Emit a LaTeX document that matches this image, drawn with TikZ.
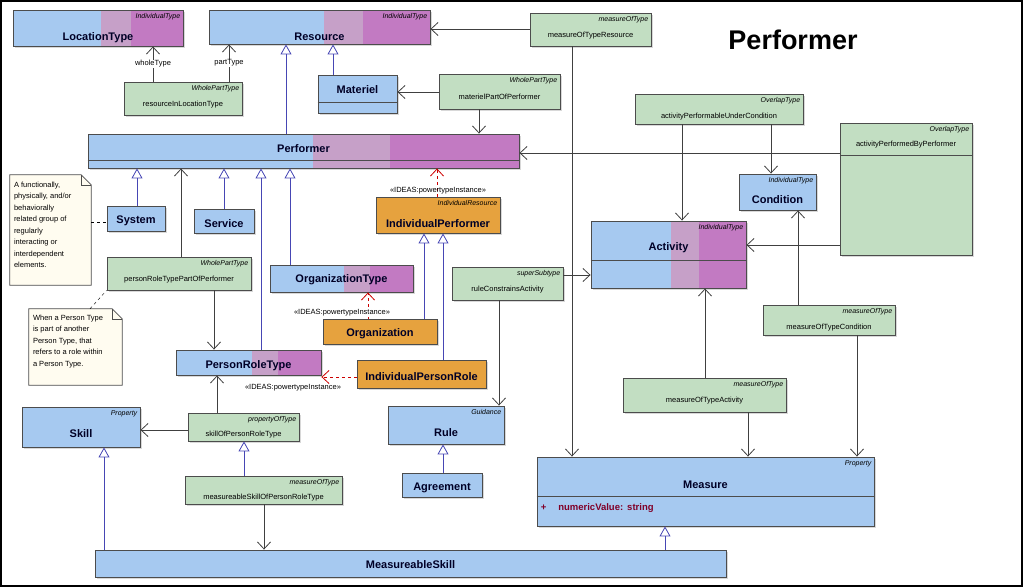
\documentclass[tikz,border=0pt]{standalone}
\usepackage{fontspec}
\setmainfont{Liberation Sans}
\usepackage{tikz}
\usetikzlibrary{arrows.meta,positioning,fit,shadows,calc}
\definecolor{clsblue}{RGB}{166,201,240}
\definecolor{lpurp}{RGB}{198,160,200}
\definecolor{purp}{RGB}{194,122,194}
\definecolor{relgreen}{RGB}{194,222,194}
\definecolor{instorange}{RGB}{230,162,62}
\definecolor{notecream}{RGB}{255,252,240}
\definecolor{attrred}{RGB}{128,0,40}
\definecolor{genblue}{RGB}{70,70,180}
\tikzset{umlbox/.style={draw=black!70, line width=0.9pt, inner sep=0pt, drop shadow={shadow xshift=2pt,shadow yshift=-2pt,fill=black!30}}}
\tikzset{klass/.style={umlbox, fill=clsblue}}
\tikzset{relation/.style={umlbox, fill=relgreen}}
\tikzset{inst/.style={fill=instorange}}
\tikzset{tri/.style 2 args={path picture={%
  \fill[lpurp] ([xshift=#1]path picture bounding box.south west) rectangle ([xshift=#2]path picture bounding box.north west);
  \fill[purp] ([xshift=#2]path picture bounding box.south west) rectangle (path picture bounding box.north east);}}}
\tikzset{stereo/.style={font=\fontsize{7}{8}\selectfont\itshape, inner sep=0pt}}
\tikzset{classname/.style={font=\fontsize{11}{12}\selectfont\bfseries, text=black!85!blue, inner sep=0pt}}
\tikzset{relname/.style={font=\fontsize{7.5}{8}\selectfont, inner sep=0pt}}
\tikzset{lab/.style={font=\fontsize{7.5}{8}\selectfont, fill=white, inner sep=1pt}}
\tikzset{assoc/.style={draw=black!75, line width=0.8pt, -{Straight Barb[length=7pt,width=13pt]}}}
\tikzset{gen/.style={draw=genblue, line width=0.8pt, -{Triangle[open,length=10pt,width=11pt]}}}
\tikzset{ptype/.style={draw=red!80!black, line width=0.8pt, dashed, -{Straight Barb[length=7pt,width=13pt]}}}
\tikzset{notebox/.style={draw=black!70, line width=0.8pt, fill=notecream}}
\tikzset{notetext/.style={font=\fontsize{7.5}{11.5}\selectfont, align=left, inner sep=0pt, anchor=north west}}
% generic box: style, title style, id, nw, se, stereotype, title, title y
\newcommand\umlbox[8]{%
  \path (#4) coordinate (#3-nw) (#5) coordinate (#3-se);
  \node[#1, fit=(#3-nw)(#3-se)] (#3) {};
  \node[stereo, anchor=north east] (#3-st) at ([xshift=-3pt,yshift=-4pt]#3.north east) {#6};
  \node[#2] (#3-nm) at (#3.center |- 0,#8) {#7};}
\newcommand\klass[7][]{\umlbox{klass,#1}{classname}{#2}{#3}{#4}{#5}{#6}{#7}}
\newcommand\relbox[7][]{\umlbox{relation,#1}{relname}{#2}{#3}{#4}{#5}{#6}{#7}}
\begin{document}
\begin{tikzpicture}[x=1pt,y=-1pt]
  \useasboundingbox (0,0) rectangle (1024,588);
  \draw[line width=1.5pt] (1,1) rectangle (1022,586);

  \node[font=\fontsize{27}{29}\selectfont\bfseries] (title) at (793,40) {Performer};

  % classes
  \klass[tri={88pt}{118pt}]{loctype}{13,10}{183,46}{IndividualType}{LocationType}{38}
  \klass[tri={115pt}{154pt}]{resource}{209,10}{430,44}{IndividualType}{Resource}{37}
  \klass{materiel}{318,75}{397,113}{}{Materiel}{90}
  \klass[tri={225pt}{302pt}]{performer}{88,134}{519,168}{}{Performer}{149}
  \klass{condition}{739,174}{816,210}{IndividualType}{Condition}{200}
  \klass[tri={80pt}{108pt}]{activity}{591,221}{746,288}{IndividualType}{Activity}{248}
  \klass{system}{107,206}{165,231}{}{System}{221}
  \klass{service}{194,209}{254,233}{}{Service}{224}
  \klass[inst]{indperf}{376,197}{500,233}{IndividualResource}{IndividualPerformer}{224}
  \klass[tri={74pt}{100pt}]{orgtype}{270,265}{413,292}{}{OrganizationType}{280}
  \klass[inst]{org}{323,319}{437,344}{}{Organization}{334}
  \klass[tri={76pt}{102pt}]{prt}{176,350}{321,375}{}{PersonRoleType}{366}
  \klass[inst]{iprole}{357,360}{486,388}{}{IndividualPersonRole}{377}
  \klass{skill}{22,407}{140,447}{Property}{Skill}{434}
  \klass{rule}{388,406}{504,444}{Guidance}{Rule}{433}
  \klass{agreement}{402,473}{482,497}{}{Agreement}{488}
  \klass{measure}{537,457}{874,526}{Property}{Measure}{485}
  \klass{mskill}{95,550}{726,577}{}{MeasureableSkill}{565}

  % relationship types
  \relbox{rilt}{124,82}{242,115}{WholePartType}{resourceInLocationType}{105}
  \relbox{mpop}{439,74}{560,109}{WholePartType}{materielPartOfPerformer}{97}
  \relbox{motr}{530,13}{651,46}{measureOfType}{measureOfTypeResource}{36}
  \relbox{apuc}{635,94}{803,124}{OverlapType}{activityPerformableUnderCondition}{117}
  \relbox{apbp}{840,123}{972,255}{OverlapType}{activityPerformedByPerformer}{145}
  \relbox{prtpop}{107,257}{251,290}{WholePartType}{personRoleTypePartOfPerformer}{280}
  \relbox{rca}{452,267}{563,300}{superSubtype}{ruleConstrainsActivity}{290}
  \relbox{motc}{763,305}{895,335}{measureOfType}{measureOfTypeCondition}{328}
  \relbox{mota}{623,378}{786,412}{measureOfType}{measureOfTypeActivity}{401}
  \relbox{soprt}{188,413}{299,441}{propertyOfType}{skillOfPersonRoleType}{435}
  \relbox{msoprt}{185,476}{342,504}{measureOfType}{measureableSkillOfPersonRoleType}{498}

  % compartments
  \draw[black!70, line width=0.9pt] (performer.west |- 0,160) -- (performer.east |- 0,160);
  \draw[black!70, line width=0.9pt] (materiel.west |- 0,102) -- (materiel.east |- 0,102);
  \draw[black!70, line width=0.9pt] (activity.west |- 0,260) -- (activity.east |- 0,260);
  \draw[black!70, line width=0.9pt] (measure.west |- 0,496) -- (measure.east |- 0,496);
  \draw[black!70, line width=0.9pt] (apbp.west |- 0,155) -- (apbp.east |- 0,155);
  \node[font=\fontsize{9.5}{10}\selectfont\bfseries, text=attrred, anchor=west, inner sep=0pt] (numval)
    at ([xshift=4pt]measure.west |- 0,508) {+\hspace{12pt}numericValue:\hspace{4pt}string};

  % notes
  \path (10,175) coordinate (n1-nw) (91,285) coordinate (n1-se);
  \node[fit=(n1-nw)(n1-se), inner sep=0pt] (note1) {};
  \draw[notebox] (note1.north west) -- ([xshift=-10pt]note1.north east) -- ([yshift=-10pt]note1.north east)
    -- (note1.south east) -- (note1.south west) -- cycle;
  \draw[black!70] ([xshift=-10pt]note1.north east) |- ([yshift=-10pt]note1.north east);
  \node[notetext] at ([xshift=4pt,yshift=-7pt]note1.north west) {A functionally,\\physically, and/or\\behaviorally\\related group of\\regularly\\interacting or\\interdependent\\elements.};
  \path (29,309) coordinate (n2-nw) (122,385) coordinate (n2-se);
  \node[fit=(n2-nw)(n2-se), inner sep=0pt] (note2) {};
  \draw[notebox] (note2.north west) -- ([xshift=-10pt]note2.north east) -- ([yshift=-10pt]note2.north east)
    -- (note2.south east) -- (note2.south west) -- cycle;
  \draw[black!70] ([xshift=-10pt]note2.north east) |- ([yshift=-10pt]note2.north east);
  \node[notetext] at ([xshift=4pt,yshift=-6pt]note2.north west) {When a Person Type\\is part of another\\Person Type, that\\refers to a role within\\a Person Type.};
  \draw[dashed] (note1.east |- 0,222) -- (system.west |- 0,222);
  \draw[dashed] (note2.north -| 90,0) -- (prtpop.south west);

  % associations
  \draw[assoc] (rilt.north -| 153,0) -- node[lab]{wholeType} (loctype.south -| 153,0);
  \draw[assoc] (rilt.north -| 229,0) -- node[lab]{partType} (resource.south -| 229,0);
  \draw[assoc] (mpop.west |- 0,92) -- (materiel.east |- 0,92);
  \draw[assoc] (mpop.south -| 479,0) -- (performer.north -| 479,0);
  \draw[assoc] (motr.west |- 0,29) -- (resource.east |- 0,29);
  \draw[assoc] (motr.south -| 572,0) -- (measure.north -| 572,0);
  \draw[assoc] (apbp.west |- 0,153) -- (performer.east |- 0,153);
  \draw[assoc] (apbp.west |- 0,245) -- (activity.east |- 0,245);
  \draw[assoc] (apuc.south -| 682,0) -- (activity.north -| 682,0);
  \draw[assoc] (apuc.south -| 771,0) -- (condition.north -| 771,0);
  \draw[assoc] (motc.north -| 798,0) -- (condition.south -| 798,0);
  \draw[assoc] (motc.south -| 857,0) -- (measure.north -| 857,0);
  \draw[assoc] (mota.north -| 705,0) -- (activity.south -| 705,0);
  \draw[assoc] (mota.south -| 748,0) -- (measure.north -| 748,0);
  \draw[assoc] (prtpop.north -| 181,0) -- (performer.south -| 181,0);
  \draw[assoc] (prtpop.south -| 214,0) -- (prt.north -| 214,0);
  \draw[assoc] (rca.east |- 0,275) -- (activity.west |- 0,275);
  \draw[assoc] (rca.south -| 499,0) -- (rule.north -| 499,0);
  \draw[assoc] (soprt.north -| 217,0) -- (prt.south -| 217,0);
  \draw[assoc] (soprt.west |- 0,430) -- (skill.east |- 0,430);
  \draw[assoc] (msoprt.south -| 264,0) -- (mskill.north -| 264,0);

  % generalizations
  \draw[gen] (performer.north -| 286,0) -- (resource.south -| 286,0);
  \draw[gen] (materiel.north -| 333,0) -- (resource.south -| 333,0);
  \draw[gen] (system.north -| 137,0) -- (performer.south -| 137,0);
  \draw[gen] (service.north -| 224,0) -- (performer.south -| 224,0);
  \draw[gen] (prt.north -| 261,0) -- (performer.south -| 261,0);
  \draw[gen] (orgtype.north -| 290,0) -- (performer.south -| 290,0);
  \draw[gen] (org.north -| 424,0) -- (indperf.south -| 424,0);
  \draw[gen] (iprole.north -| 443,0) -- (indperf.south -| 443,0);
  \draw[gen] (msoprt.north -| 244,0) -- (soprt.south -| 244,0);
  \draw[gen] (mskill.north -| 104,0) -- (skill.south -| 104,0);
  \draw[gen] (agreement.north -| 443,0) -- (rule.south -| 443,0);
  \draw[gen] (mskill.north -| 665,0) -- (measure.south -| 665,0);

  % powertype instances
  \draw[ptype] (indperf.north -| 437,0) -- (performer.south -| 437,0);
  \node[lab, fill=none, above=1pt of indperf] (pt1) {«IDEAS:powertypeInstance»};
  \draw[ptype] (org.north -| 368,0) -- (orgtype.south -| 368,0);
  \node[lab, anchor=south] (pt2) at (342,317) {«IDEAS:powertypeInstance»};
  \draw[ptype] (iprole.west |- 0,377) -- (prt.east |- 0,377);
  \node[lab, fill=none] (pt3) at (293,388) {«IDEAS:powertypeInstance»};
\end{tikzpicture}
\end{document}
